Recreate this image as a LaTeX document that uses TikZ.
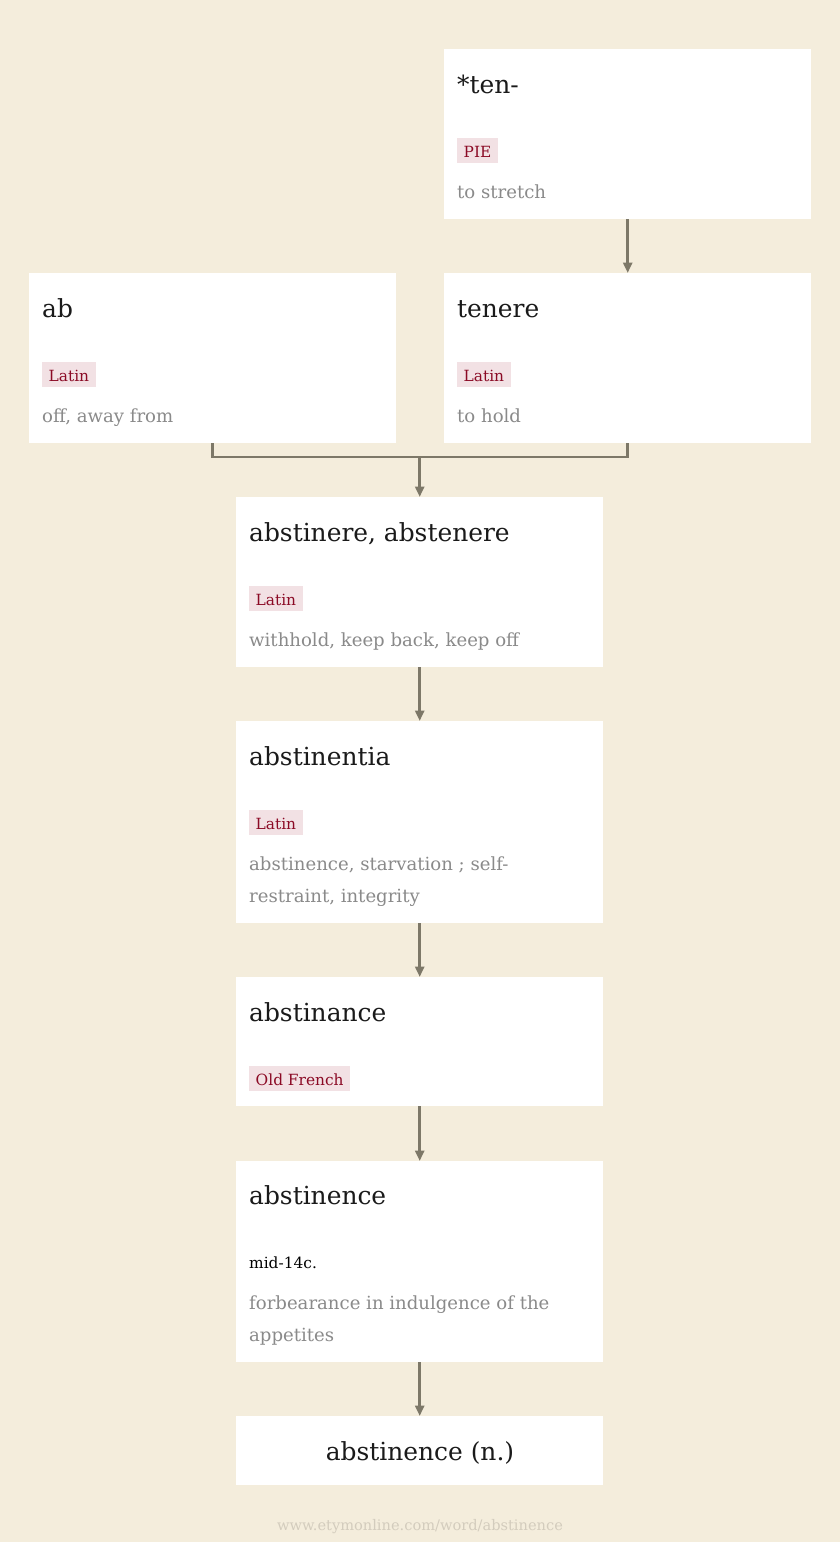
\documentclass[tikz,border=0pt]{standalone}
\usepackage{fontspec}
\setmainfont{DejaVu Serif}
\usetikzlibrary{arrows.meta}
\definecolor{bg}{HTML}{F4EDDC}
\definecolor{ln}{HTML}{7D7868}
\definecolor{tagfg}{HTML}{8B0A25}
\definecolor{tagbg}{HTML}{F2E1E4}
\definecolor{desc}{HTML}{8A8A8A}
\definecolor{ttl}{HTML}{1A1A1A}
\definecolor{foot}{HTML}{D3CCBD}
\tikzset{
  x=1pt,y=-1pt,
  box/.style={fill=white,draw=none,anchor=north west,minimum width=367pt,inner sep=0pt},
  ttlstyle/.style={anchor=base west,inner sep=0pt,text=ttl,font=\fontsize{24.9}{30}\selectfont},
  tagstyle/.style={anchor=base west,inner xsep=6.5pt,inner ysep=0pt,text height=19.5pt,text depth=5.5pt,fill=tagbg,text=tagfg,font=\fontsize{15.4}{18}\selectfont},
  datestyle/.style={anchor=base west,inner sep=0pt,text=black,font=\fontsize{15.4}{18}\selectfont},
  descstyle/.style={anchor=base west,inner sep=0pt,text=desc,font=\fontsize{18.1}{22}\selectfont},
  link/.style={draw=ln,line width=2.7pt},
  arrow/.style={link,-{Triangle[length=10.5pt,width=9pt]}},
}
\begin{document}
\begin{tikzpicture}
\fill[bg] (0,0) rectangle (840,1542);
\useasboundingbox (0,0) rectangle (840,1542);
% boxes
\node[box,minimum height=170pt] (ten) at (444,49) {};
\node[box,minimum height=170pt] (ab) at (29,273) {};
\node[box,minimum height=170pt] (tenere) at (444,273) {};
\node[box,minimum height=170pt] (abst) at (236,497) {};
\node[box,minimum height=202pt] (abstia) at (236,721) {};
\node[box,minimum height=129pt] (abstof) at (236,977) {};
\node[box,minimum height=201pt] (abstme) at (236,1161) {};
\node[box,minimum height=69pt] (final) at (236,1416) {};
% ten
\node[ttlstyle] (tenT) at (457,93) {*ten-};
\node[tagstyle] (tenL) at (457,157) {PIE};
\node[descstyle] (tenD) at (457,198) {to stretch};
% ab
\node[ttlstyle] (abT) at (42,317) {ab};
\node[tagstyle] (abL) at (42,381) {Latin};
\node[descstyle] (abD) at (42,422) {off, away from};
% tenere
\node[ttlstyle] (tenereT) at (457,317) {tenere};
\node[tagstyle] (tenereL) at (457,381) {Latin};
\node[descstyle] (tenereD) at (457,422) {to hold};
% abstinere
\node[ttlstyle] (abstT) at (249,541) {abstinere, abstenere};
\node[tagstyle] (abstL) at (249,605) {Latin};
\node[descstyle] (abstD) at (249,646) {withhold, keep back, keep off};
% abstinentia
\node[ttlstyle] (abstiaT) at (249,765) {abstinentia};
\node[tagstyle] (abstiaL) at (249,829) {Latin};
\node[descstyle] (abstiaD1) at (249,870) {abstinence, starvation ; self-};
\node[descstyle] (abstiaD2) at (249,902) {restraint, integrity};
% abstinance
\node[ttlstyle] (abstofT) at (249,1021) {abstinance};
\node[tagstyle] (abstofL) at (249,1085) {Old French};
% abstinence
\node[ttlstyle] (abstmeT) at (249,1204) {abstinence};
\node[datestyle] (abstmeL) at (249,1268) {mid-14c.};
\node[descstyle] (abstmeD1) at (249,1309) {forbearance in indulgence of the};
\node[descstyle] (abstmeD2) at (249,1341) {appetites};
% final
\node[anchor=base,inner sep=0pt,text=ttl,font=\fontsize{24.9}{30}\selectfont] (finalT) at (420,1460) {abstinence (n.)};
% footer
\node[anchor=base,inner sep=0pt,text=foot,font=\fontsize{14.6}{18}\selectfont] (footer) at (420,1530) {www.etymonline.com/word/abstinence};
% connectors
\draw[arrow] (ten.south) -- (tenere.north);
\coordinate (j) at (abst.north |- 0,457);
\draw[link] (ab.south) |- (j);
\draw[link] (tenere.south) |- (j);
\draw[arrow] (j) -- (abst.north);
\draw[arrow] (abst.south) -- (abstia.north);
\draw[arrow] (abstia.south) -- (abstof.north);
\draw[arrow] (abstof.south) -- (abstme.north);
\draw[arrow] (abstme.south) -- (final.north);
\end{tikzpicture}
\end{document}
